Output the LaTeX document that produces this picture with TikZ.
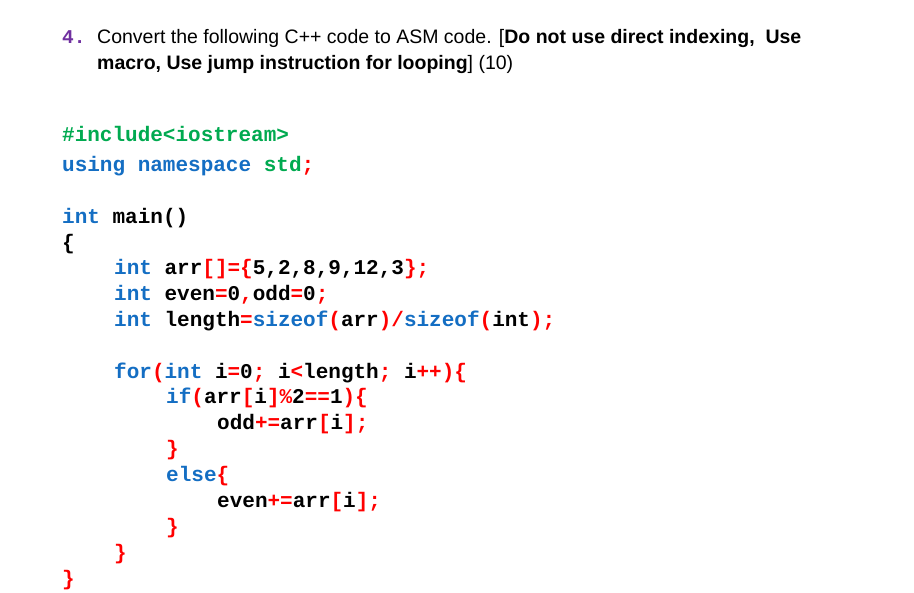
\documentclass[tikz,border=0pt]{standalone}
\usepackage{fontspec}
\setmainfont{Liberation Sans}
\newfontfamily\cmono{Liberation Mono}
\definecolor{kwblue}{RGB}{20,110,195}
\definecolor{kwgreen}{RGB}{0,170,80}
\definecolor{kwred}{RGB}{255,0,0}
\definecolor{kwpurple}{RGB}{112,48,160}
\newcommand{\Bk}[1]{\textcolor{kwblue}{#1}}
\newcommand{\Rd}[1]{\textcolor{kwred}{#1}}
\newcommand{\Gn}[1]{\textcolor{kwgreen}{#1}}
\tikzset{code/.style={anchor=base west,inner sep=0pt,font=\cmono\bfseries\fontsize{21}{21}\selectfont},
title/.style={anchor=base west,inner sep=0pt,font=\fontsize{19.5}{19.5}\selectfont}}
\begin{document}
\begin{tikzpicture}[x=1pt,y=1pt]
\useasboundingbox[fill=white] (0,0) rectangle (914,-593);
\node[title] (n) at (62,-44) {\textcolor{kwpurple}{\cmono\bfseries 4.}};
\node[title] (t1) at (97,-44) {Convert the following C++ code to ASM code. [\textbf{Do not use direct indexing,\ \ Use}};
\node[title] (t2) at (97,-70) {\textbf{macro, Use jump instruction for looping}] (10)};
\node[code] (l1) at (62,-142) {\Gn{\#include<iostream>}};
\node[code] (l2) at (62,-172) {\Bk{using namespace} \Gn{std}\Rd{;}};
\node[code] (l3) at (62,-224) {\Bk{int} main()};
\node[code] (l4) at (62,-250) {\{};
\node[code] (l5) at (114,-275) {\Bk{int} arr\Rd{[]=\{}5,2,8,9,12,3\Rd{\};}};
\node[code] (l6) at (114,-301) {\Bk{int} even\Rd{=}0\Rd{,}odd\Rd{=}0\Rd{;}};
\node[code] (l7) at (114,-327) {\Bk{int} length\Rd{=}\Bk{sizeof}\Rd{(}arr\Rd{)/}\Bk{sizeof}\Rd{(}int\Rd{);}};
\node[code] (l8) at (114,-379) {\Bk{for}\Rd{(}\Bk{int} i\Rd{=}0\Rd{;} i\Rd{<}length\Rd{;} i\Rd{++)\{}};
\node[code] (l9) at (166,-404) {\Bk{if}\Rd{(}arr\Rd{[}i\Rd{]\%}2\Rd{==}1\Rd{)\{}};
\node[code] (l10) at (217,-430) {odd\Rd{+=}arr\Rd{[}i\Rd{];}};
\node[code] (l11) at (166,-456) {\Rd{\}}};
\node[code] (l12) at (166,-482) {\Bk{else}\Rd{\{}};
\node[code] (l13) at (217,-508) {even\Rd{+=}arr\Rd{[}i\Rd{];}};
\node[code] (l14) at (166,-534) {\Rd{\}}};
\node[code] (l15) at (114,-560) {\Rd{\}}};
\node[code] (l16) at (62,-586) {\Rd{\}}};
\end{tikzpicture}
\end{document}
